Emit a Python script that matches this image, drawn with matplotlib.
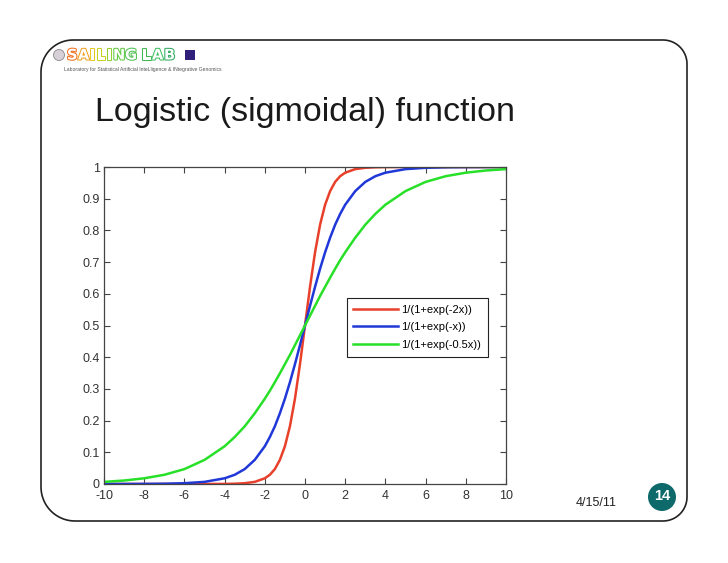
#Slide: logistic (sigmoidal) function curves, matlab-style axes
import matplotlib.pyplot as plt
import numpy as np
from matplotlib.patches import Polygon, Ellipse
import matplotlib.patheffects as pe

plt.rcParams['font.family'] = ['Liberation Sans', 'DejaVu Sans']

# values
x_vals = [-10, -9, -8, -7, -6, -5, -4, -3.5, -3, -2.5, -2, -1.75, -1.5, -1.25, -1, -0.75, -0.5, -0.25, 0,
          0.25, 0.5, 0.75, 1, 1.25, 1.5, 1.75, 2, 2.5, 3, 3.5, 4, 5, 6, 7, 8, 9, 10]
red_vals = [0.0, 0.0, 0.0, 0.0, 0.0, 0.0, 0.0003, 0.0009, 0.0025, 0.0067, 0.018, 0.029, 0.047, 0.076, 0.119, 0.182, 0.269, 0.378, 0.5,
            0.622, 0.731, 0.818, 0.881, 0.924, 0.953, 0.971, 0.982, 0.9933, 0.9975, 0.9991, 0.9997, 1.0, 1.0, 1.0, 1.0, 1.0, 1.0]
blue_vals = [0.00005, 0.0001, 0.0003, 0.0009, 0.0025, 0.0067, 0.018, 0.029, 0.047, 0.076, 0.119, 0.148, 0.182, 0.223, 0.269, 0.321, 0.378, 0.438, 0.5,
             0.562, 0.622, 0.679, 0.731, 0.777, 0.818, 0.852, 0.881, 0.924, 0.953, 0.971, 0.982, 0.9933, 0.9975, 0.9991, 0.9997, 0.9999, 0.99995]
green_vals = [0.0067, 0.011, 0.018, 0.029, 0.047, 0.076, 0.119, 0.148, 0.182, 0.223, 0.269, 0.294, 0.321, 0.349, 0.378, 0.407, 0.438, 0.469, 0.5,
              0.531, 0.562, 0.593, 0.622, 0.651, 0.679, 0.706, 0.731, 0.777, 0.818, 0.852, 0.881, 0.924, 0.953, 0.971, 0.982, 0.989, 0.9933]
labels = ["1/(1+exp(-2x))", "1/(1+exp(-x))", "1/(1+exp(-0.5x))"]
x_ticks = [-10, -8, -6, -4, -2, 0, 2, 4, 6, 8, 10]
y_ticks = [0, 0.1, 0.2, 0.3, 0.4, 0.5, 0.6, 0.7, 0.8, 0.9, 1]

W, H = 728, 563
fig = plt.figure(figsize=(W / 100, H / 100), dpi=100)

# rounded slide frame, different corner radii (pixel units)
def frame_pts(l, r, t, b, rtl, rtr, rbr, rbl):
    pts = []
    def arc(cx, cy, rad, a0, a1):
        for a in np.linspace(a0, a1, 20):
            pts.append((cx + rad * np.cos(a), cy + rad * np.sin(a)))
    # coords with y up
    arc(l + rtl, t - rtl, rtl, np.pi, np.pi / 2)
    arc(r - rtr, t - rtr, rtr, np.pi / 2, 0)
    arc(r - rbr, b + rbr, rbr, 0, -np.pi / 2)
    arc(l + rbl, b + rbl, rbl, -np.pi / 2, -np.pi)
    return [(px / W, py / H) for px, py in pts]

frame = Polygon(frame_pts(41, 687, H - 40, H - 521, 32, 24, 24, 34), closed=True,
                fill=False, edgecolor='#222222', linewidth=1.2, transform=fig.transFigure)
fig.patches.append(frame)

def circ(cx, cy, r, **kw):
    return Ellipse((cx / W, 1 - cy / H), 2 * r / W, 2 * r / H, transform=fig.transFigure, **kw)

# logo
fig.patches.append(circ(59, 55, 5.5, facecolor='#d8d0d8', edgecolor='#888888', linewidth=0.6))
logo_cols = ['#f07020', '#f0a020', '#e8c820', '#c8d020', '#90d030', '#60c840', '#50c050',
             '#ffffff', '#40b850', '#40c060', '#30a860']
advance = {'S': 11, 'A': 12, 'I': 6.5, 'L': 10, 'N': 12, 'G': 12, ' ': 5, 'B': 11}
xpos = 67
for ch, c in zip("SAILING LAB", logo_cols):
    t = fig.text(xpos / W, 1 - 55 / H, ch, fontsize=10.5, fontweight='bold', color='white',
                 va='center', ha='left', family='DejaVu Sans')
    t.set_path_effects([pe.Stroke(linewidth=1.5, foreground=c), pe.Normal()])
    xpos += advance[ch]
fig.patches.append(plt.Rectangle((185 / W, 1 - 60 / H), 10 / W, 10 / H, transform=fig.transFigure,
                                 facecolor='#30207a', edgecolor='none'))
fig.text(64 / W, 1 - 70 / H, "Laboratory for Statistical Artificial InteLligence & INtegrative Genomics",
         fontsize=3.6, color='#555555', va='center', ha='left')

# title
fig.text(95 / W, 1 - 113 / H, "Logistic (sigmoidal) function", fontsize=24.5, color='#1a1a1a',
         va='center', ha='left')

# chart
ax = fig.add_axes([104 / W, (H - 484) / H, 402 / W, 317 / H])
ax.plot(x_vals, red_vals, color='#e8402a', linewidth=1.8, label=labels[0])
ax.plot(x_vals, blue_vals, color='#2038d8', linewidth=1.8, label=labels[1])
ax.plot(x_vals, green_vals, color='#28e028', linewidth=1.8, label=labels[2])
ax.set_xlim(-10, 10)
ax.set_ylim(0, 1)
ax.set_xticks(x_ticks)
ax.set_yticks(y_ticks)
ax.set_xticklabels([str(v) for v in x_ticks])
ax.set_yticklabels(['0', '0.1', '0.2', '0.3', '0.4', '0.5', '0.6', '0.7', '0.8', '0.9', '1'])
ax.tick_params(direction='in', top=True, right=True, length=4, width=0.8,
               labelsize=9, colors='#444444', pad=3)
ax.tick_params(axis='both', labelcolor='#333333')
ax.tick_params(axis='x', pad=4.5)
for s in ax.spines.values():
    s.set_color('#444444')
    s.set_linewidth(0.9)
leg = ax.legend(loc='upper left', bbox_to_anchor=(0.604, 0.587), fontsize=8, frameon=True,
                fancybox=False, edgecolor='#222222', framealpha=1, handlelength=4.0,
                borderpad=0.6, labelspacing=0.7, handletextpad=0.3, borderaxespad=0)
leg.get_frame().set_linewidth(0.8)

# footer
fig.text(596 / W, 1 - 503 / H, "4/15/11", fontsize=9, color='#222222', va='center', ha='center')
fig.patches.append(circ(662, 497, 14, facecolor='#0e6a6a', edgecolor='none'))
fig.text(662 / W, 1 - 496 / H, "14", fontsize=10.5, fontweight='bold', color='white',
         va='center', ha='center')

fig.savefig("out.png", dpi=100)
